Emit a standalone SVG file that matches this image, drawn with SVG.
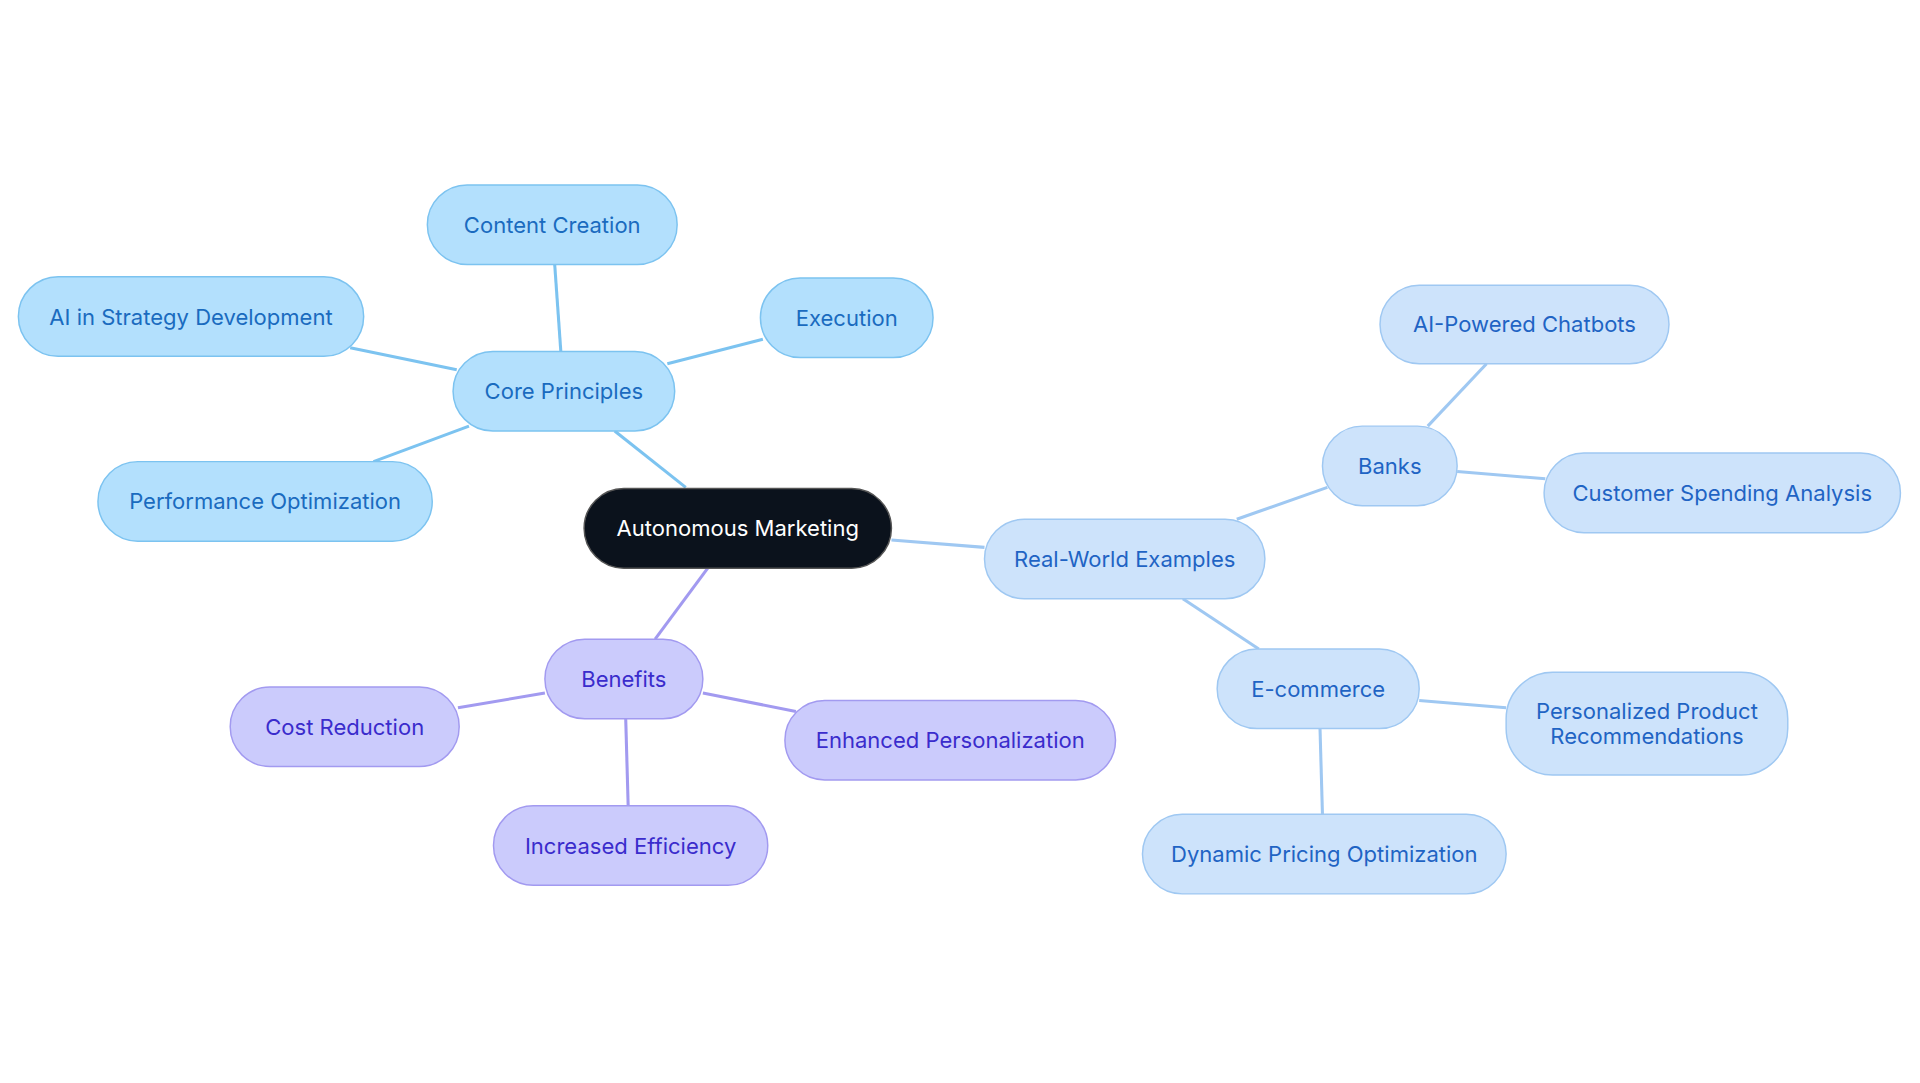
<svg xmlns="http://www.w3.org/2000/svg" width="1920" height="1083" viewBox="0 0 1920 1083">
<style>
text{font-family:Inter,"Noto Sans",sans-serif;font-size:18px;text-anchor:middle;dominant-baseline:central}
.c rect{fill:#b3e0fd;stroke:#7cc3f0;stroke-width:1.2}.c text{fill:#1a6bbf}
.r rect{fill:#cde3fb;stroke:#9fc8f2;stroke-width:1.2}.r text{fill:#1f64c4}
.b rect{fill:#cbcbfc;stroke:#a29af0;stroke-width:1.2}.b text{fill:#3a2ccc}
#edges line{stroke-width:2.5}
.ec{stroke:#7cc3f0}.er{stroke:#9fc8f2}.eb{stroke:#a29af0}
</style>
<rect width="1920" height="1083" fill="#fff"/>
<g transform="scale(1.2245)">
<g id="edges">
<line class="ec" x1="560" y1="398" x2="502" y2="352"/>
<line class="ec" x1="458" y1="287" x2="453" y2="216"/>
<line class="ec" x1="545" y1="297" x2="623" y2="277"/>
<line class="ec" x1="373" y1="302" x2="286" y2="284"/>
<line class="ec" x1="383" y1="348" x2="305" y2="377"/>
<line class="er" x1="728" y1="441" x2="804" y2="447"/>
<line class="er" x1="1010" y1="424" x2="1084" y2="398"/>
<line class="er" x1="1166" y1="348" x2="1214" y2="297"/>
<line class="er" x1="1190" y1="385" x2="1262" y2="391"/>
<line class="er" x1="966" y1="489" x2="1028" y2="530"/>
<line class="er" x1="1159" y1="572" x2="1230" y2="578"/>
<line class="er" x1="1078" y1="595" x2="1080" y2="665"/>
<line class="eb" x1="578" y1="464" x2="535" y2="522"/>
<line class="eb" x1="445" y1="566" x2="374" y2="578"/>
<line class="eb" x1="574" y1="566" x2="650" y2="581"/>
<line class="eb" x1="511" y1="587" x2="513" y2="658"/>
</g>
<g id="center"><rect x="477" y="399" width="251" height="65" rx="32.5" fill="#0b121c" stroke="#555" stroke-width="1.2"/><text x="602.5" y="431.5" fill="#fff">Autonomous Marketing</text></g>
<g id="core" class="c"><rect x="370" y="287" width="181" height="65" rx="32.5"/><text x="460.5" y="319.5">Core Principles</text></g>
<g id="content" class="c"><rect x="349" y="151" width="204" height="65" rx="32.5"/><text x="451" y="183.5">Content Creation</text></g>
<g id="execution" class="c"><rect x="621" y="227" width="141" height="65" rx="32.5"/><text x="691.5" y="259.5">Execution</text></g>
<g id="aistrategy" class="c"><rect x="15" y="226" width="282" height="65" rx="32.5"/><text x="156" y="258.5">AI in Strategy Development</text></g>
<g id="perf" class="c"><rect x="80" y="377" width="273" height="65" rx="32.5"/><text x="216.5" y="409.5">Performance Optimization</text></g>
<g id="rwe" class="r"><rect x="804" y="424" width="229" height="65" rx="32.5"/><text x="918.5" y="456.5">Real-World Examples</text></g>
<g id="banks" class="r"><rect x="1080" y="348" width="110" height="65" rx="32.5"/><text x="1135" y="380.5">Banks</text></g>
<g id="chatbots" class="r"><rect x="1127" y="233" width="236" height="64" rx="32"/><text x="1245" y="265">AI-Powered Chatbots</text></g>
<g id="spending" class="r"><rect x="1261" y="370" width="291" height="65" rx="32.5"/><text x="1406.5" y="402.5">Customer Spending Analysis</text></g>
<g id="ecom" class="r"><rect x="994" y="530" width="165" height="65" rx="32.5"/><text x="1076.5" y="562.5">E-commerce</text></g>
<g id="pers" class="r"><rect x="1230" y="549" width="230" height="84" rx="38"/><text x="1345" y="581">Personalized Product</text><text x="1345" y="601">Recommendations</text></g>
<g id="dynamic" class="r"><rect x="933" y="665" width="297" height="65" rx="32.5"/><text x="1081.5" y="697.5">Dynamic Pricing Optimization</text></g>
<g id="benefits" class="b"><rect x="445" y="522" width="129" height="65" rx="32.5"/><text x="509.5" y="554.5">Benefits</text></g>
<g id="cost" class="b"><rect x="188" y="561" width="187" height="65" rx="32.5"/><text x="281.5" y="593.5">Cost Reduction</text></g>
<g id="enhanced" class="b"><rect x="641" y="572" width="270" height="65" rx="32.5"/><text x="776" y="604.5">Enhanced Personalization</text></g>
<g id="efficiency" class="b"><rect x="403" y="658" width="224" height="65" rx="32.5"/><text x="515" y="690.5">Increased Efficiency</text></g>
</g>
</svg>
